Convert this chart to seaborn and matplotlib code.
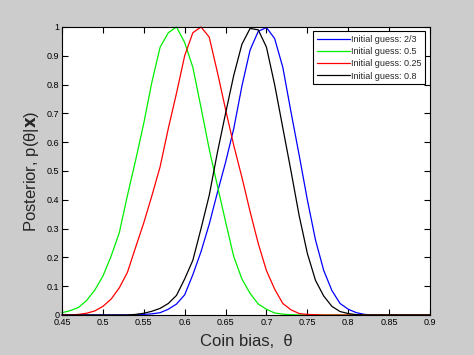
import numpy as np
import pandas as pd
import matplotlib
matplotlib.use('Agg')
import matplotlib.pyplot as plt
import seaborn as sns

# theta grid (0.45 .. 0.90, step 0.01)
theta = [round(0.45 + 0.01 * i, 2) for i in range(46)]

# posterior values
guess_2_3 = [0, 0, 0, 0, 0, 0, 0, 0, 0, 0.001,
             0.002, 0.004, 0.008, 0.02, 0.038, 0.07, 0.14, 0.22, 0.315, 0.425,
             0.53, 0.647, 0.795, 0.92, 0.985, 0.998, 0.96, 0.86, 0.705, 0.555,
             0.40, 0.26, 0.155, 0.085, 0.04, 0.02, 0.008, 0.002, 0, 0,
             0, 0, 0, 0, 0, 0]
guess_0_5 = [0.008, 0.015, 0.026, 0.05, 0.086, 0.135, 0.204, 0.285, 0.415, 0.537,
             0.666, 0.81, 0.93, 0.98, 1.0, 0.946, 0.86, 0.72, 0.576, 0.449,
             0.324, 0.203, 0.125, 0.075, 0.038, 0.02, 0.007, 0.003, 0.001, 0,
             0, 0, 0, 0, 0, 0, 0, 0, 0, 0,
             0, 0, 0, 0, 0, 0]
guess_0_25 = [0, 0, 0.002, 0.006, 0.014, 0.03, 0.055, 0.094, 0.148, 0.235,
              0.32, 0.415, 0.515, 0.648, 0.77, 0.90, 0.98, 1.0, 0.965, 0.843,
              0.714, 0.589, 0.478, 0.359, 0.248, 0.154, 0.09, 0.04, 0.018, 0.005,
              0.002, 0.001, 0, 0, 0, 0, 0, 0, 0, 0,
              0, 0, 0, 0, 0, 0]
guess_0_8 = [0, 0, 0, 0, 0, 0, 0, 0, 0, 0.002,
             0.006, 0.013, 0.023, 0.04, 0.068, 0.125, 0.19, 0.30, 0.415, 0.564,
             0.70, 0.832, 0.94, 0.995, 0.99, 0.93, 0.80, 0.65, 0.50, 0.345,
             0.214, 0.12, 0.066, 0.03, 0.012, 0.005, 0.001, 0, 0, 0,
             0, 0, 0, 0, 0, 0]

labels = ['Initial guess: 2/3', 'Initial guess: 0.5', 'Initial guess: 0.25', 'Initial guess: 0.8']
colors = ['#0000ff', '#00ee00', '#ff0000', '#000000']

df = pd.concat([
    pd.DataFrame({'theta': theta, 'posterior': guess_2_3, 'guess': labels[0]}),
    pd.DataFrame({'theta': theta, 'posterior': guess_0_5, 'guess': labels[1]}),
    pd.DataFrame({'theta': theta, 'posterior': guess_0_25, 'guess': labels[2]}),
    pd.DataFrame({'theta': theta, 'posterior': guess_0_8, 'guess': labels[3]}),
])

sns.set_style('ticks')
plt.rcParams['font.family'] = ['Liberation Sans', 'DejaVu Sans']

fig = plt.figure(figsize=(4.74, 3.55), dpi=100, facecolor='#cccccc')
ax = fig.add_axes([0.1308, 0.1127, 0.7764, 0.8113])
ax.set_facecolor('white')

sns.lineplot(data=df, x='theta', y='posterior', hue='guess', hue_order=labels,
             palette=colors, linewidth=0.9, ax=ax, clip_on=False)

ax.set_xlim(0.45, 0.9)
ax.set_ylim(0, 1)
ax.set_xticks([0.45, 0.5, 0.55, 0.6, 0.65, 0.7, 0.75, 0.8, 0.85, 0.9])
ax.set_xticklabels(['0.45', '0.5', '0.55', '0.6', '0.65', '0.7', '0.75', '0.8', '0.85', '0.9'])
ax.set_yticks([0, 0.1, 0.2, 0.3, 0.4, 0.5, 0.6, 0.7, 0.8, 0.9, 1])
ax.set_yticklabels(['0', '0.1', '0.2', '0.3', '0.4', '0.5', '0.6', '0.7', '0.8', '0.9', '1'])
ax.tick_params(direction='in', top=True, right=True, length=4, width=0.8,
               labelsize=6.5, pad=2, colors='black')
for s in ax.spines.values():
    s.set_visible(True)
    s.set_color('black')
    s.set_linewidth(0.8)

ax.set_xlabel('Coin bias,  θ', fontsize=12, labelpad=5)
ax.set_ylabel(r'Posterior, p(θ|$\mathbf{x}$)', fontsize=12, labelpad=4)

leg = ax.legend(loc='upper right', fontsize=6.5, frameon=True, fancybox=False,
                edgecolor='black', handlelength=3.6, handletextpad=0.2,
                borderpad=0.4, labelspacing=0.35, borderaxespad=0.5)
leg.get_frame().set_linewidth(0.8)
leg.get_frame().set_alpha(1)

fig.savefig('out.png', dpi=100, facecolor='#cccccc')
